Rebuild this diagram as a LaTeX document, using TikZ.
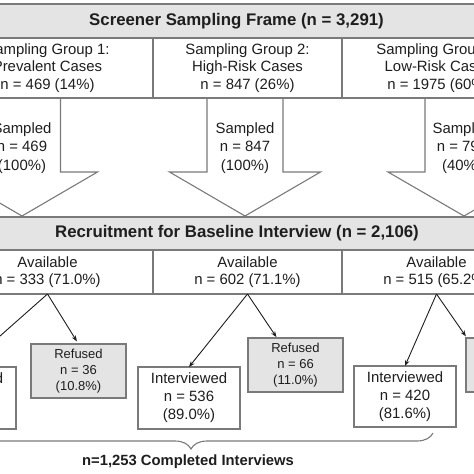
\documentclass[tikz,border=0pt]{standalone}
\usepackage{fontspec}
\setmainfont{Liberation Sans}
\usetikzlibrary{arrows.meta,decorations.pathreplacing}
\definecolor{boxgray}{HTML}{E4E4E4}
\definecolor{linegray}{HTML}{7A7A7A}
\definecolor{txt}{HTML}{1E1E1E}
\begin{document}
\begin{tikzpicture}[x=1pt,y=-1pt,
  every node/.style={text=txt, inner sep=0pt, outer sep=0pt},
  hdr/.style={draw=linegray, fill=boxgray, line width=1.1pt, minimum height=34pt, minimum width=700pt, font=\fontsize{16.8}{20}\selectfont\bfseries},
  cell/.style={draw=linegray, fill=white, line width=1.1pt, align=center, font=\fontsize{14.9}{17.5}\selectfont},
  blockarrow/.style={draw=linegray, fill=white, line width=1.1pt, line join=miter},
  sampledtxt/.style={align=center, font=\fontsize{14.9}{18.3}\selectfont},
  refbox/.style={draw=linegray, fill=boxgray, line width=1.1pt, minimum width=95pt, minimum height=54pt, align=center, font=\fontsize{13}{16}\selectfont},
  intbox/.style={draw=linegray, fill=white, line width=1.1pt, minimum width=102pt, minimum height=62pt, align=center, font=\fontsize{14.9}{18}\selectfont},
  conn/.style={draw=txt, line width=0.9pt, -{Stealth[length=6pt,width=4.5pt]}},
  bracestyle/.style={draw=linegray, line width=1.1pt, decorate, decoration={brace, amplitude=16pt, mirror}},
  totaltxt/.style={font=\fontsize{14.8}{17}\selectfont\bfseries}
]
\useasboundingbox (0,0) rectangle (474,474);
\clip (0,0) rectangle (474,474);

% block arrows
\draw[blockarrow] (-16.5,98) -- (60.5,98) -- (60.5,172) -- (97.5,172) -- (22,216) -- (-53.5,172) -- (-16.5,172) -- cycle;
\draw[blockarrow] (207,98) -- (283,98) -- (283,172) -- (320.5,172) -- (245,216) -- (169.5,172) -- (207,172) -- cycle;
\draw[blockarrow] (425,98) -- (503,98) -- (503,172) -- (540,172) -- (464,216) -- (388,172) -- (425,172) -- cycle;
\node[sampledtxt] (S1) at (22,148) {Sampled\\n = 469\\(100\%)};
\node[sampledtxt] (S2) at (245,148) {Sampled\\n = 847\\(100\%)};
\node[sampledtxt] (S3) at (462,148) {Sampled\\n = 790\\(40\%)};

% top header and group cells
\node[hdr] (H1) at (236.5,21) {Screener Sampling Frame (n = 3,291)};
\node[cell, minimum width=211pt, minimum height=60pt] (G1) at (47.5,68) {Sampling Group 1:\\Prevalent Cases\\n = 469 (14\%)};
\node[cell, minimum width=189pt, minimum height=60pt] (G2) at (247.5,68) {Sampling Group 2:\\High-Risk Cases\\n = 847 (26\%)};
\node[cell, minimum width=193pt, minimum height=60pt] (G3) at (438.5,68) {Sampling Group 3:\\Low-Risk Cases\\n = 1975 (60\%)};

% second header and available cells
\node[hdr, minimum height=33pt] (H2) at (237,233.5) {Recruitment for Baseline Interview (n = 2,106)};
\node[cell, minimum width=211pt, minimum height=44pt] (A1) at (47.5,272) {Available\\n = 333 (71.0\%)};
\node[cell, minimum width=189pt, minimum height=44pt] (A2) at (247.5,272) {Available\\n = 602 (71.1\%)};
\node[cell, minimum width=189pt, minimum height=44pt] (A3) at (436.5,272) {Available\\n = 515 (65.2\%)};

% outcome boxes
\node[refbox] (R1) at (78.5,371) {Refused\\n = 36\\(10.8\%)};
\node[refbox] (R2) at (295.5,365) {Refused\\n = 66\\(11.0\%)};
\node[refbox] (R3) at (513.5,365) {Refused\\n = 95\\(18.4\%)};
\node[intbox] (I1) at (-35,398) {Interviewed\\n = 297\\(89.2\%)};
\node[intbox] (I2) at (189,398) {Interviewed\\n = 536\\(89.0\%)};
\node[intbox, minimum height=61pt] (I3) at (405,396.5) {Interviewed\\n = 420\\(81.6\%)};

% connectors
\draw[conn] (A1.south) -- (I1.north);
\draw[conn, shorten >=3pt] (A1.south) -- (R1.north);
\draw[conn] (A2.south) -- (I2.north);
\draw[conn, shorten >=1pt] (A2.south) -- ([xshift=29pt]R2.north west);
\draw[conn] (A3.south) -- (I3.north);
\draw[conn, shorten >=2pt] (A3.south) -- ([xshift=1pt]R3.north west);

% brace and total
\coordinate (bl) at (-51,433);
\coordinate (br) at (433,433);
\draw[bracestyle] (bl) -- (br);
\node[totaltxt] (T) at (188,462) {n=1,253 Completed Interviews};
\end{tikzpicture}
\end{document}
